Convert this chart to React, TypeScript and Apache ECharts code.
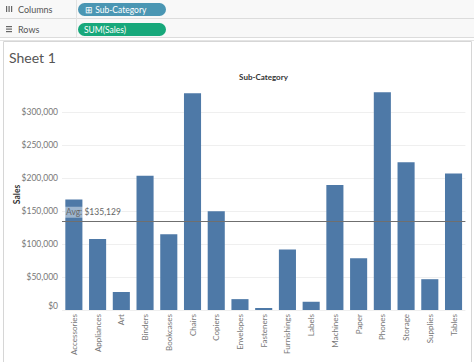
import React, { useEffect, useRef } from "react";
import * as echarts from "echarts";

const categories = [
  "Accessories", "Appliances", "Art", "Binders", "Bookcases", "Chairs", "Copiers",
  "Envelopes", "Fasteners", "Furnishings", "Labels", "Machines", "Paper", "Phones",
  "Storage", "Supplies", "Tables",
];
const sales = [
  167380, 107532, 27119, 203413, 114880, 328449, 149528, 16476, 3024, 91705,
  12486, 189239, 78479, 330007, 223844, 46674, 206966,
];
const yTicks = [0, 50000, 100000, 150000, 200000, 250000, 300000, 350000];

const FONT = "Lato, 'Open Sans', sans-serif";

function fmtMoney(v: number) {
  return "$" + Math.floor(v).toString().replace(/\B(?=(\d{3})+(?!\d))/g, ",");
}

export default function App() {
  const ref = useRef<HTMLDivElement>(null);
  useEffect(() => {
    if (!ref.current) return;
    const chart = echarts.init(ref.current, null, { renderer: "svg" });
    const gridColors = yTicks.map((t, i) => (i === yTicks.length - 1 ? "rgba(0,0,0,0)" : "#efefef"));
    chart.setOption({
      animation: false,
      backgroundColor: "#ffffff",
      textStyle: { fontFamily: FONT },
      grid: { left: 62, right: 8.6, top: 79, bottom: 52, containLabel: false, outerBoundsMode: "none" },
      graphic: [
        { type: "rect", shape: { x: 0, y: 0, width: 474, height: 18 }, style: { fill: "#f8f8f8" }, z: -10 },
        { type: "line", shape: { x1: 0, y1: 18.5, x2: 474, y2: 18.5 }, style: { stroke: "#dcdcdc", lineWidth: 1 } },
        { type: "rect", shape: { x: 0, y: 19, width: 474, height: 18 }, style: { fill: "#f8f8f8" }, z: -10 },
        { type: "line", shape: { x1: 0, y1: 37.5, x2: 474, y2: 37.5 }, style: { stroke: "#dcdcdc", lineWidth: 1 } },
        { type: "line", shape: { x1: 0, y1: 40.5, x2: 474, y2: 40.5 }, style: { stroke: "#e4e4e4", lineWidth: 1 } },
        { type: "line", shape: { x1: 76.5, y1: 0, x2: 76.5, y2: 37 }, style: { stroke: "#e2e2e2", lineWidth: 1 } },
        // columns icon
        { type: "rect", shape: { x: 6, y: 6, width: 1.2, height: 6 }, style: { fill: "#666" } },
        { type: "rect", shape: { x: 8.5, y: 6, width: 1.2, height: 6 }, style: { fill: "#666" } },
        { type: "rect", shape: { x: 11, y: 6, width: 1.2, height: 6 }, style: { fill: "#666" } },
        { type: "text", x: 18, y: 9.5, style: { text: "Columns", fill: "#555", fontSize: 9, fontFamily: FONT, verticalAlign: "middle" } },
        // rows icon
        { type: "rect", shape: { x: 6, y: 26, width: 6, height: 1.2 }, style: { fill: "#666" } },
        { type: "rect", shape: { x: 6, y: 28.5, width: 6, height: 1.2 }, style: { fill: "#666" } },
        { type: "rect", shape: { x: 6, y: 31, width: 6, height: 1.2 }, style: { fill: "#666" } },
        { type: "text", x: 18, y: 29, style: { text: "Rows", fill: "#555", fontSize: 9, fontFamily: FONT, verticalAlign: "middle" } },
        // pills
        { type: "rect", shape: { x: 78, y: 3, width: 88, height: 13, r: 6.5 }, style: { fill: "#4a96b3" } },
        { type: "text", x: 85, y: 9.5, style: { text: "⊞ Sub-Category", fill: "#ffffff", fontSize: 8.5, fontFamily: FONT, verticalAlign: "middle" } },
        { type: "rect", shape: { x: 78, y: 23, width: 88, height: 13, r: 6.5 }, style: { fill: "#17a87b" } },
        { type: "text", x: 84, y: 29.5, style: { text: "SUM(Sales)", fill: "#ffffff", fontSize: 8.5, fontFamily: FONT, verticalAlign: "middle" } },
        // sheet border
        { type: "rect", shape: { x: 3.5, y: 41.5, width: 468, height: 330 }, style: { fill: "none", stroke: "#d6d6d6", lineWidth: 1 }, z: -5 },
        { type: "text", x: 9, y: 57, style: { text: "Sheet 1", fill: "#555", fontSize: 14, fontFamily: FONT, verticalAlign: "middle" } },
        { type: "text", x: 263.5, y: 77, style: { text: "Sub-Category", fill: "#333", fontSize: 8, fontWeight: "bold", fontFamily: FONT, align: "center", verticalAlign: "middle" } },
      ],
      xAxis: {
        type: "category",
        data: categories,
        axisLine: { show: false },
        axisTick: { show: false },
        axisLabel: { interval: 0, rotate: 90, fontSize: 8, color: "#777", margin: 4, fontFamily: FONT },
      },
      yAxis: {
        type: "value",
        min: 0,
        max: 350000,
        interval: 50000,
        name: "Sales",
        nameLocation: "middle",
        nameGap: 41,
        nameRotate: 90,
        nameMoveOverlap: false,
        nameTextStyle: { fontSize: 8.5, fontWeight: "bold", color: "#333", fontFamily: FONT },
        axisLine: { show: false },
        axisTick: { show: false },
        splitLine: { show: true, lineStyle: { color: gridColors, width: 1 } },
        axisLabel: {
          showMaxLabel: false,
          fontSize: 8.5,
          color: "#777",
          margin: 4,
          fontFamily: FONT,
          formatter: (v: number) => (v === 0 ? "{z|$0}" : v >= 350000 ? "" : fmtMoney(v)),
          rich: { z: { fontSize: 8.5, color: "#777", fontFamily: FONT, padding: [0, 0, 8, 0] } },
        },
      },
      series: [
        {
          type: "bar",
          data: sales,
          barCategoryGap: "28%",
          itemStyle: { color: "#4e79a7" },
          markLine: {
            silent: true,
            symbol: ["none", "none"],
            data: [{ type: "average" }],
            lineStyle: { color: "#6f6f6f", width: 1, type: "solid" },
            label: {
              position: "insideStartTop",
              distance: 3,
              fontSize: 8.5,
              color: "#666",
              fontFamily: FONT,
              backgroundColor: "rgba(255,255,255,0.45)",
              padding: [1, 1],
              formatter: (p: any) => "Avg: " + fmtMoney(p.value),
            },
          },
        },
      ],
    });
    return () => chart.dispose();
  }, []);
  return (
    <div
      ref={ref}
      style={{ position: "fixed", left: 0, top: 0, width: 474, height: 362 }}
    />
  );
}
